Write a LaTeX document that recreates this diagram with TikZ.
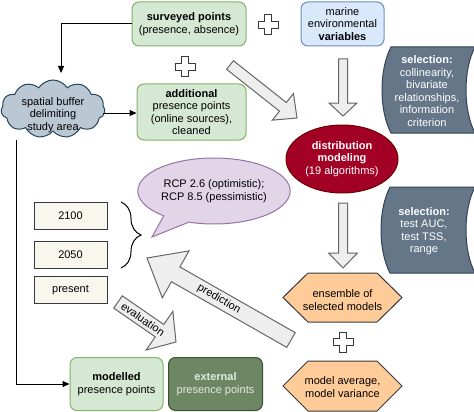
\documentclass[tikz,border=0pt]{standalone}
\usepackage{fontspec}
\setmainfont{Liberation Sans}
\usetikzlibrary{calc,arrows.meta,shapes.symbols,shapes.callouts,shapes.geometric,decorations.pathreplacing}
\definecolor{grnF}{HTML}{D5E8D4}
\definecolor{grnD}{HTML}{82B366}
\definecolor{bluF}{HTML}{DAE8FC}
\definecolor{bluD}{HTML}{6C8EBF}
\definecolor{cldF}{HTML}{BAC8D3}
\definecolor{cldD}{HTML}{23445D}
\definecolor{redF}{HTML}{A20025}
\definecolor{redD}{HTML}{6F0000}
\definecolor{selF}{HTML}{647687}
\definecolor{selD}{HTML}{314354}
\definecolor{hexF}{HTML}{FFCC99}
\definecolor{hexD}{HTML}{36393D}
\definecolor{purF}{HTML}{E1D5E7}
\definecolor{purD}{HTML}{9673A6}
\definecolor{yrF}{HTML}{F9F7ED}
\definecolor{yrD}{HTML}{36393D}
\definecolor{extF}{HTML}{6D8764}
\definecolor{extD}{HTML}{3A5431}
\definecolor{extT}{HTML}{E4EBE1}
\definecolor{arrF}{HTML}{EEEEEE}
\definecolor{arrD}{HTML}{666666}
\newcommand\blockarr[5]{%
  \coordinate (tmpB) at ($(#2)!#5!(#1)$);
  \draw[blockst] ($(#1)!#3!90:(#2)$) -- ($(tmpB)!#3!-90:(#1)$) -- ($(tmpB)!#4!-90:(#1)$) -- (#2) -- ($(tmpB)!#4!90:(#1)$) -- ($(tmpB)!#3!90:(#1)$) -- ($(#1)!#3!-90:(#2)$) -- cycle;}
\newcommand\plussign[2]{%
  \draw[plusst, shift={(#1,#2)}] (-3.5,-10) -- (3.5,-10) -- (3.5,-3.5) -- (10,-3.5) -- (10,3.5) -- (3.5,3.5) -- (3.5,10) -- (-3.5,10) -- (-3.5,3.5) -- (-10,3.5) -- (-10,-3.5) -- (-3.5,-3.5) -- cycle;}
\begin{document}
\begin{tikzpicture}[x=1pt,y=-1pt,
  font=\fontsize{11}{12.5}\selectfont,
  every node/.style={align=center, inner sep=1pt},
  rbox/.style={rectangle, rounded corners=7pt, line width=1pt},
  greenbox/.style={rbox, fill=grnF, draw=grnD},
  bluebox/.style={rbox, fill=bluF, draw=bluD},
  extbox/.style={rbox, fill=extF, draw=extD, text=extT},
  yearbox/.style={rectangle, fill=yrF, draw=yrD, line width=1pt, minimum width=73pt, minimum height=27pt},
  conn/.style={draw=black, line width=1pt, -{Triangle[length=7pt,width=6pt]}},
  blockst/.style={fill=arrF, draw=arrD, line width=1pt, line join=miter},
  plusst/.style={fill=white, draw=hexD, line width=1pt},
  hexst/.style={fill=hexF, draw=hexD, line width=1pt},
  selst/.style={fill=selF, draw=selD, line width=1pt},
  seltext/.style={text=white},
  lbl/.style={font=\fontsize{11}{12}\selectfont}
]
\useasboundingbox (0,0) rectangle (474,412);

% block arrows
\coordinate (diagS) at (230,65);
\coordinate (diagT) at (297,118);
\blockarr{diagS}{diagT}{5.5pt}{17pt}{18pt}
\coordinate (varS) at (343,59);
\coordinate (varT) at (343,116);
\blockarr{varS}{varT}{4.5pt}{14pt}{13pt}
\coordinate (selS) at (343,203);
\coordinate (selT) at (343,268);
\blockarr{selS}{selT}{4.5pt}{14.5pt}{15pt}
\coordinate (predS) at (291,340);
\coordinate (predT) at (147,258);
\blockarr{predS}{predT}{8.5pt}{27pt}{33pt}
\node[lbl, rotate=-29.7] (predlbl) at ($(predS)!0.5!(predT)$) {prediction};
\coordinate (evalS) at (118,302);
\coordinate (evalT) at (176,342);
\blockarr{evalS}{evalT}{7.5pt}{23.5pt}{20pt}
\node[lbl, rotate=-34.6] (evallbl) at ($(evalS)!0.43!(evalT)$) {evaluation};

% plus signs
\plussign{268}{25}
\plussign{185}{67}
\plussign{343}{342}

% top boxes
\node[greenbox, minimum width=114pt, minimum height=44pt] (surv) at (189,24) {\textbf{surveyed points}\\(presence, absence)};
\node[bluebox, minimum width=83pt, minimum height=44pt] (marine) at (342.5,24) {marine\\environmental\\\textbf{variables}};
\node[greenbox, minimum width=109pt, minimum height=56pt] (addl) at (191.5,112) {\textbf{additional}\\presence points\\(online sources),\\cleaned};

% cloud
\node[cloud, cloud puffs=11, cloud puff arc=115, aspect=1.9, fill=cldF, draw=cldD, line width=1pt, minimum width=104pt, minimum height=58pt, inner sep=0pt] (cloud) at (53,109) {};
\node (cloudtxt) at (53,115) {spatial buffer\\delimiting\\study area};

% connectors
\coordinate (cloudTop) at (61,73);
\coordinate (cloudR) at (103,113);
\coordinate (cloudB) at (16,140);
\draw[conn] (surv.west) -| (cloudTop);
\draw[conn] (cloudR) -- (addl.west |- cloudR);

% distribution
\node[ellipse, fill=redF, draw=redD, line width=1pt, minimum width=112pt, minimum height=68pt, text=white] (dist) at (342,159) {\textbf{distribution}\\\textbf{modeling}\\(19 algorithms)};

% selection shapes
\path[selst] (391,47) -- (475,47) .. controls (463,70) and (463,110) .. (475,133) -- (391,133) .. controls (379,110) and (379,70) .. (391,47) -- cycle;
\node[seltext] (sel1) at (427,91) {\textbf{selection:}\\collinearity,\\bivariate\\relationships,\\information\\criterion};
\path[selst] (390,187) -- (475,187) .. controls (463,210) and (463,250) .. (475,273) -- (390,273) .. controls (378,250) and (378,210) .. (390,187) -- cycle;
\node[seltext] (sel2) at (424,231) {\textbf{selection:}\\test AUC,\\test TSS,\\range};

% RCP callout
\node[ellipse callout, callout absolute pointer={(152,237)}, callout pointer arc=22, fill=purF, draw=purD, line width=1pt, minimum width=134pt, minimum height=66pt] (rcp) at (214,191) {RCP 2.6 (optimistic);\\RCP 8.5 (pessimistic)};

% years
\node[yearbox] (y2100) at (70.5,215.5) {2100};
\node[yearbox] (y2050) at (70.5,254.5) {2050};
\node[yearbox] (ypres) at (70.5,290) {present};
\draw[decorate, decoration={brace, amplitude=20pt}, line width=1pt] (121,202) -- (121,268);

% hexagons
\path[hexst] (308,273) -- (377,273) -- (402,297.5) -- (377,322) -- (308,322) -- (283,297.5) -- cycle;
\node (ens) at (342.5,300) {ensemble of\\selected models};
\path[hexst] (308,361) -- (377,361) -- (402,386) -- (377,411) -- (308,411) -- (283,386) -- cycle;
\node (avg) at (342.5,387) {model average,\\model variance};

% bottom boxes
\node[greenbox, minimum width=93pt, minimum height=53pt] (model) at (116.5,384) {\textbf{modelled}\\presence points};
\node[extbox, minimum width=94pt, minimum height=53pt] (ext) at (215.5,384) {\textbf{external}\\presence points};
\draw[conn] (cloudB) |- (model.west);
\end{tikzpicture}
\end{document}
